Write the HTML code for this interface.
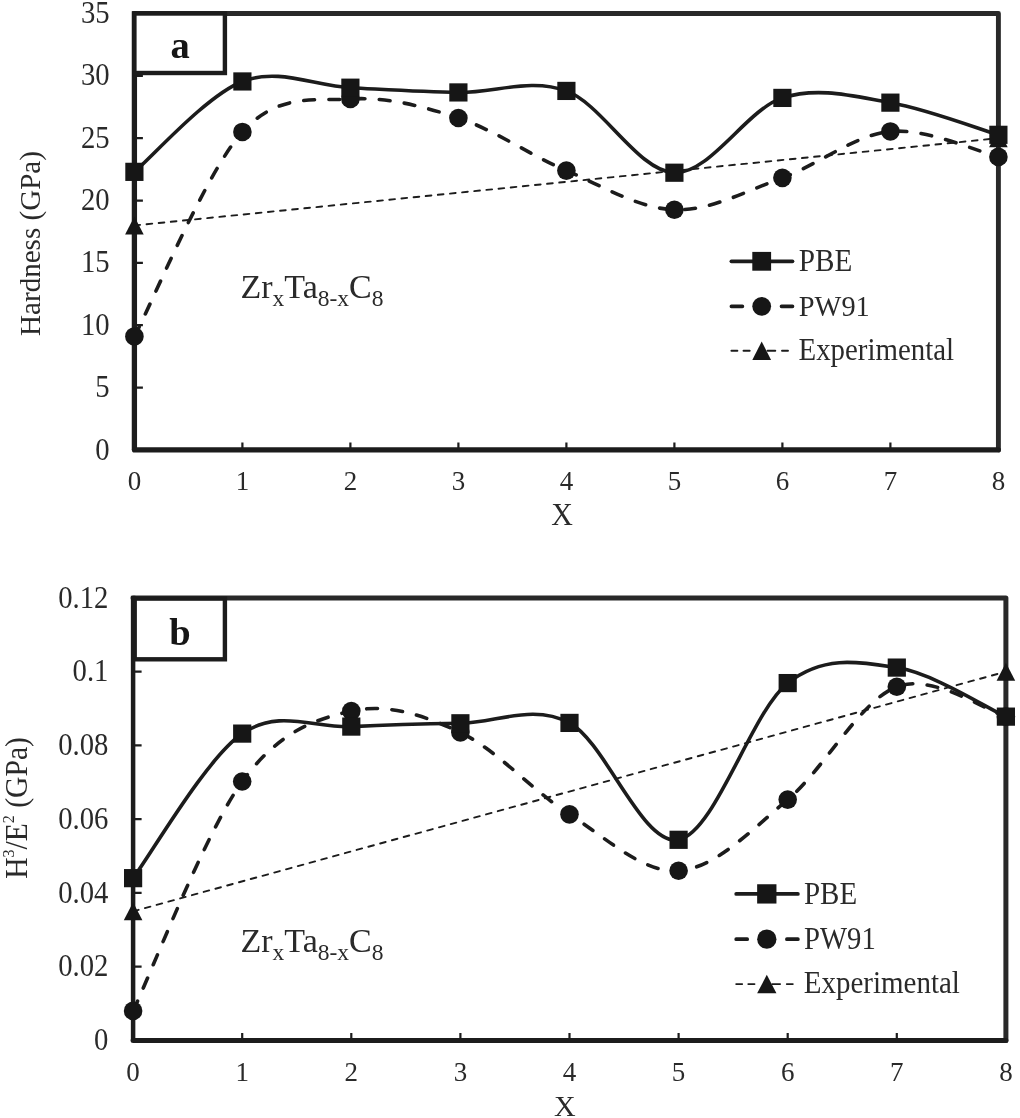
<!DOCTYPE html>
<html lang="en">
<head>
<meta charset="utf-8">
<title>Hardness and H3/E2 of ZrxTa8-xC8</title>
<style>
html,body{margin:0;padding:0;background:#fff;}
body{width:1020px;height:1118px;overflow:hidden;}
svg{display:block;filter:blur(0.6px);}
</style>
</head>
<body>
<svg width="1020" height="1118" viewBox="0 0 1020 1118">
<rect width="1020" height="1118" fill="#fff"/>
<path d="M134.40,13.50 H998.40 V449.90" fill="none" stroke="#292929" stroke-width="4.90" stroke-linejoin="round" stroke-linecap="round"/>
<path d="M134.40,11.35 V449.90" fill="none" stroke="#1c1c1c" stroke-width="5.30"/>
<path d="M134.40,449.90 H998.40" fill="none" stroke="#1c1c1c" stroke-width="5.10" stroke-linecap="round"/>
<path d="M242.40,449.90 v-7.5 M350.40,449.90 v-7.5 M458.40,449.90 v-7.5 M566.40,449.90 v-7.5 M674.40,449.90 v-7.5 M782.40,449.90 v-7.5 M890.40,449.90 v-7.5 M134.40,387.56 h8.5 M134.40,325.21 h8.5 M134.40,262.87 h8.5 M134.40,200.53 h8.5 M134.40,138.19 h8.5 M134.40,75.84 h8.5" stroke="#1c1c1c" stroke-width="2.2" fill="none"/>
<g font-family='"Liberation Serif", serif' font-size="27" fill="#2a2a2a">
<text transform="translate(134.40,490.20) scale(1,1.03)" text-anchor="middle">0</text>
<text transform="translate(242.40,490.20) scale(1,1.03)" text-anchor="middle">1</text>
<text transform="translate(350.40,490.20) scale(1,1.03)" text-anchor="middle">2</text>
<text transform="translate(458.40,490.20) scale(1,1.03)" text-anchor="middle">3</text>
<text transform="translate(566.40,490.20) scale(1,1.03)" text-anchor="middle">4</text>
<text transform="translate(674.40,490.20) scale(1,1.03)" text-anchor="middle">5</text>
<text transform="translate(782.40,490.20) scale(1,1.03)" text-anchor="middle">6</text>
<text transform="translate(890.40,490.20) scale(1,1.03)" text-anchor="middle">7</text>
<text transform="translate(998.40,490.20) scale(1,1.03)" text-anchor="middle">8</text>
<text transform="translate(109.60,459.50) scale(1,1.080)" font-size="28.7" text-anchor="end">0</text>
<text transform="translate(109.60,397.16) scale(1,1.080)" font-size="28.7" text-anchor="end">5</text>
<text transform="translate(109.60,334.81) scale(1,1.080)" font-size="28.7" text-anchor="end">10</text>
<text transform="translate(109.60,272.47) scale(1,1.080)" font-size="28.7" text-anchor="end">15</text>
<text transform="translate(109.60,210.13) scale(1,1.080)" font-size="28.7" text-anchor="end">20</text>
<text transform="translate(109.60,147.79) scale(1,1.080)" font-size="28.7" text-anchor="end">25</text>
<text transform="translate(109.60,85.44) scale(1,1.080)" font-size="28.7" text-anchor="end">30</text>
<text transform="translate(109.60,23.10) scale(1,1.080)" font-size="28.7" text-anchor="end">35</text>
</g>
<text transform="translate(562.00,525.40) scale(1,1.050)" text-anchor="middle" font-family='"Liberation Serif", serif' font-size="30" fill="#2a2a2a">X</text>
<text transform="translate(39.70,243.50) rotate(-90) scale(1,1.030)" text-anchor="middle" font-family='"Liberation Serif", serif' font-size="29.1" fill="#2a2a2a">Hardness (GPa)</text>
<path d="M134.40,225.47 L998.40,138.19" stroke="#1c1c1c" stroke-width="1.9" stroke-dasharray="5.7 6.5" stroke-linecap="round" fill="none"/>
<path d="M134.40,336.44 C152.40,302.36 206.40,171.52 242.40,131.95 C278.40,92.38 314.40,101.36 350.40,99.03 C386.40,96.71 422.40,106.06 458.40,117.99 C494.40,129.91 530.40,155.31 566.40,170.60 C602.40,185.90 638.40,208.55 674.40,209.76 C710.40,210.96 746.40,190.89 782.40,177.84 C818.40,164.79 854.40,134.94 890.40,131.45 C926.40,127.96 980.40,152.65 998.40,156.89" stroke="#1c1c1c" stroke-width="3.6" stroke-dasharray="10.8 14.4" stroke-dashoffset="0" stroke-linecap="round" fill="none"/>
<path d="M134.40,171.85 C152.40,156.78 206.40,95.48 242.40,81.45 C278.40,67.43 314.40,85.86 350.40,87.69 C386.40,89.52 422.40,91.89 458.40,92.43 C494.40,92.97 530.40,77.55 566.40,90.93 C602.40,104.31 638.40,171.56 674.40,172.72 C710.40,173.89 746.40,109.59 782.40,97.91 C818.40,86.23 854.40,96.50 890.40,102.65 C926.40,108.80 980.40,129.46 998.40,134.82" stroke="#1c1c1c" stroke-width="3.6" fill="none" stroke-linejoin="round"/>
<g fill="#161616">
<path d="M134.40,216.47 L143.70,234.47 L125.10,234.47 Z"/>
<path d="M998.40,129.19 L1007.70,147.19 L989.10,147.19 Z"/>
<circle cx="134.40" cy="336.44" r="9.30"/>
<circle cx="242.40" cy="131.95" r="9.30"/>
<circle cx="350.40" cy="99.03" r="9.30"/>
<circle cx="458.40" cy="117.99" r="9.30"/>
<circle cx="566.40" cy="170.60" r="9.30"/>
<circle cx="674.40" cy="209.76" r="9.30"/>
<circle cx="782.40" cy="177.84" r="9.30"/>
<circle cx="890.40" cy="131.45" r="9.30"/>
<circle cx="998.40" cy="156.89" r="9.30"/>
<rect x="125.30" y="162.75" width="18.20" height="18.20"/>
<rect x="233.30" y="72.35" width="18.20" height="18.20"/>
<rect x="341.30" y="78.59" width="18.20" height="18.20"/>
<rect x="449.30" y="83.33" width="18.20" height="18.20"/>
<rect x="557.30" y="81.83" width="18.20" height="18.20"/>
<rect x="665.30" y="163.62" width="18.20" height="18.20"/>
<rect x="773.30" y="88.81" width="18.20" height="18.20"/>
<rect x="881.30" y="93.55" width="18.20" height="18.20"/>
<rect x="989.30" y="125.72" width="18.20" height="18.20"/>
</g>
<rect x="134.40" y="13.50" width="90.50" height="59.50" fill="#fff" stroke="#1c1c1c" stroke-width="4.4"/>
<text x="180.00" y="58.40" text-anchor="middle" font-family='"Liberation Serif", serif' font-weight="bold" font-size="38.5" fill="#161616">a</text>
<text x="240.40" y="297.80" font-family='"Liberation Serif", serif' font-size="34" fill="#2a2a2a">Zr<tspan font-size="23.5" dy="8.2">x</tspan><tspan dy="-8.2">Ta</tspan><tspan font-size="23.5" dy="8.2">8-x</tspan><tspan dy="-8.2">C</tspan><tspan font-size="23.5" dy="8.2">8</tspan></text>
<path d="M731.40,261.30 H792.50" stroke="#1c1c1c" stroke-width="3.7" stroke-linecap="round"/>
<path d="M731.40,306.30 h11 M792.50,306.30 h-11" stroke="#1c1c1c" stroke-width="3.7" stroke-linecap="round"/>
<path d="M731.40,350.70 H737.40 M743.50,350.70 H749.70 M767.50,350.70 H775.30 M782.00,350.70 H788.00" stroke="#1c1c1c" stroke-width="1.9" stroke-linecap="round" fill="none"/>
<g fill="#161616"><rect x="752.30" y="251.90" width="18.80" height="18.80"/><circle cx="761.70" cy="306.30" r="9.40"/><path d="M761.70,341.45 L771.10,359.95 L752.30,359.95 Z"/></g>
<g font-family='"Liberation Serif", serif' font-size="28" fill="#2a2a2a">
<text transform="translate(798.80,270.70) scale(1,1.065)" font-size="29.2">PBE</text>
<text transform="translate(798.80,315.70) scale(1,1.065)" font-size="28.4">PW91</text>
<text transform="translate(798.50,360.40) scale(1,1.065)" font-size="28.9">Experimental</text>
</g>
<path d="M133.10,597.90 H1005.90 V1040.40" fill="none" stroke="#292929" stroke-width="5.00" stroke-linejoin="round" stroke-linecap="round"/>
<path d="M133.10,595.70 V1040.40" fill="none" stroke="#1c1c1c" stroke-width="4.50"/>
<path d="M133.10,1040.40 H1005.90" fill="none" stroke="#1c1c1c" stroke-width="5.00" stroke-linecap="round"/>
<path d="M242.20,1040.40 v-7.5 M351.30,1040.40 v-7.5 M460.40,1040.40 v-7.5 M569.50,1040.40 v-7.5 M678.60,1040.40 v-7.5 M787.70,1040.40 v-7.5 M896.80,1040.40 v-7.5 M133.10,966.65 h8.5 M133.10,892.90 h8.5 M133.10,819.15 h8.5 M133.10,745.40 h8.5 M133.10,671.65 h8.5" stroke="#1c1c1c" stroke-width="2.2" fill="none"/>
<g font-family='"Liberation Serif", serif' font-size="27" fill="#2a2a2a">
<text transform="translate(133.10,1081.40) scale(1,1.03)" text-anchor="middle">0</text>
<text transform="translate(242.20,1081.40) scale(1,1.03)" text-anchor="middle">1</text>
<text transform="translate(351.30,1081.40) scale(1,1.03)" text-anchor="middle">2</text>
<text transform="translate(460.40,1081.40) scale(1,1.03)" text-anchor="middle">3</text>
<text transform="translate(569.50,1081.40) scale(1,1.03)" text-anchor="middle">4</text>
<text transform="translate(678.60,1081.40) scale(1,1.03)" text-anchor="middle">5</text>
<text transform="translate(787.70,1081.40) scale(1,1.03)" text-anchor="middle">6</text>
<text transform="translate(896.80,1081.40) scale(1,1.03)" text-anchor="middle">7</text>
<text transform="translate(1005.90,1081.40) scale(1,1.03)" text-anchor="middle">8</text>
<text transform="translate(108.40,1050.00) scale(1,1.080)" font-size="28.7" text-anchor="end">0</text>
<text transform="translate(108.40,976.25) scale(1,1.080)" font-size="28.7" text-anchor="end">0.02</text>
<text transform="translate(108.40,902.50) scale(1,1.080)" font-size="28.7" text-anchor="end">0.04</text>
<text transform="translate(108.40,828.75) scale(1,1.080)" font-size="28.7" text-anchor="end">0.06</text>
<text transform="translate(108.40,755.00) scale(1,1.080)" font-size="28.7" text-anchor="end">0.08</text>
<text transform="translate(108.40,681.25) scale(1,1.080)" font-size="28.7" text-anchor="end">0.1</text>
<text transform="translate(108.40,607.50) scale(1,1.080)" font-size="28.7" text-anchor="end">0.12</text>
</g>
<text transform="translate(564.80,1115.80) scale(1,1.000)" text-anchor="middle" font-family='"Liberation Serif", serif' font-size="30" fill="#2a2a2a">X</text>
<text transform="translate(26.50,808.00) rotate(-90) scale(1,1.060)" text-anchor="middle" font-family='"Liberation Serif", serif' font-size="29.6" fill="#2a2a2a">H<tspan font-size="16" dy="-11.5">3</tspan><tspan dy="11.5">/E</tspan><tspan font-size="16" dy="-11.5">2</tspan><tspan dy="11.5"> (GPa)</tspan></text>
<path d="M133.10,911.34 L1005.90,671.65" stroke="#1c1c1c" stroke-width="1.9" stroke-dasharray="5.7 6.5" stroke-linecap="round" fill="none"/>
<path d="M133.10,1010.90 C151.28,972.67 205.83,831.50 242.20,781.54 C278.57,731.57 314.93,719.28 351.30,711.11 C387.67,702.93 424.03,715.29 460.40,732.49 C496.77,749.70 533.13,791.31 569.50,814.36 C605.87,837.40 642.23,873.23 678.60,870.78 C714.97,868.32 751.33,830.27 787.70,799.61 C824.07,768.94 860.43,700.60 896.80,686.77 C933.17,672.94 987.72,711.66 1005.90,716.64" stroke="#1c1c1c" stroke-width="3.6" stroke-dasharray="10.8 14.4" stroke-dashoffset="0" stroke-linecap="round" fill="none"/>
<path d="M133.10,878.15 C151.28,854.06 205.83,758.86 242.20,733.60 C278.57,708.34 314.93,728.31 351.30,726.59 C387.67,724.87 424.03,723.89 460.40,723.28 C496.77,722.66 533.13,703.49 569.50,722.91 C605.87,742.33 642.23,846.44 678.60,839.80 C714.97,833.16 751.33,711.78 787.70,683.08 C824.07,654.38 860.43,662.00 896.80,667.59 C933.17,673.19 987.72,708.46 1005.90,716.64" stroke="#1c1c1c" stroke-width="3.6" fill="none" stroke-linejoin="round"/>
<g fill="#161616">
<path d="M133.10,902.34 L142.40,920.34 L123.80,920.34 Z"/>
<path d="M1005.90,662.65 L1015.20,680.65 L996.60,680.65 Z"/>
<circle cx="133.10" cy="1010.90" r="9.30"/>
<circle cx="242.20" cy="781.54" r="9.30"/>
<circle cx="351.30" cy="711.11" r="9.30"/>
<circle cx="460.40" cy="732.49" r="9.30"/>
<circle cx="569.50" cy="814.36" r="9.30"/>
<circle cx="678.60" cy="870.78" r="9.30"/>
<circle cx="787.70" cy="799.61" r="9.30"/>
<circle cx="896.80" cy="686.77" r="9.30"/>
<circle cx="1005.90" cy="716.64" r="9.30"/>
<rect x="124.00" y="869.05" width="18.20" height="18.20"/>
<rect x="233.10" y="724.50" width="18.20" height="18.20"/>
<rect x="342.20" y="717.49" width="18.20" height="18.20"/>
<rect x="451.30" y="714.18" width="18.20" height="18.20"/>
<rect x="560.40" y="713.81" width="18.20" height="18.20"/>
<rect x="669.50" y="830.70" width="18.20" height="18.20"/>
<rect x="778.60" y="673.98" width="18.20" height="18.20"/>
<rect x="887.70" y="658.49" width="18.20" height="18.20"/>
<rect x="996.80" y="707.54" width="18.20" height="18.20"/>
</g>
<rect x="134.70" y="598.60" width="90.20" height="60.70" fill="#fff" stroke="#1c1c1c" stroke-width="4.4"/>
<text x="180.00" y="645.20" text-anchor="middle" font-family='"Liberation Serif", serif' font-weight="bold" font-size="38.5" fill="#161616">b</text>
<text x="240.40" y="951.60" font-family='"Liberation Serif", serif' font-size="34" fill="#2a2a2a">Zr<tspan font-size="23.5" dy="8.2">x</tspan><tspan dy="-8.2">Ta</tspan><tspan font-size="23.5" dy="8.2">8-x</tspan><tspan dy="-8.2">C</tspan><tspan font-size="23.5" dy="8.2">8</tspan></text>
<path d="M736.20,893.90 H797.90" stroke="#1c1c1c" stroke-width="3.7" stroke-linecap="round"/>
<path d="M736.20,939.15 h11 M797.90,939.15 h-11" stroke="#1c1c1c" stroke-width="3.7" stroke-linecap="round"/>
<path d="M736.20,984.10 H742.20 M748.30,984.10 H754.50 M772.30,984.10 H780.10 M786.80,984.10 H792.80" stroke="#1c1c1c" stroke-width="1.9" stroke-linecap="round" fill="none"/>
<g fill="#161616"><rect x="757.15" y="884.25" width="19.30" height="19.30"/><circle cx="766.80" cy="939.15" r="9.65"/><path d="M766.80,974.85 L776.45,993.35 L757.15,993.35 Z"/></g>
<g font-family='"Liberation Serif", serif' font-size="28.4" fill="#2a2a2a">
<text transform="translate(804.00,903.80) scale(1,1.085)" font-size="29">PBE</text>
<text transform="translate(804.00,948.80) scale(1,1.085)" font-size="28.7">PW91</text>
<text transform="translate(803.70,993.30) scale(1,1.085)" font-size="29">Experimental</text>
</g>
</svg>
</body>
</html>
